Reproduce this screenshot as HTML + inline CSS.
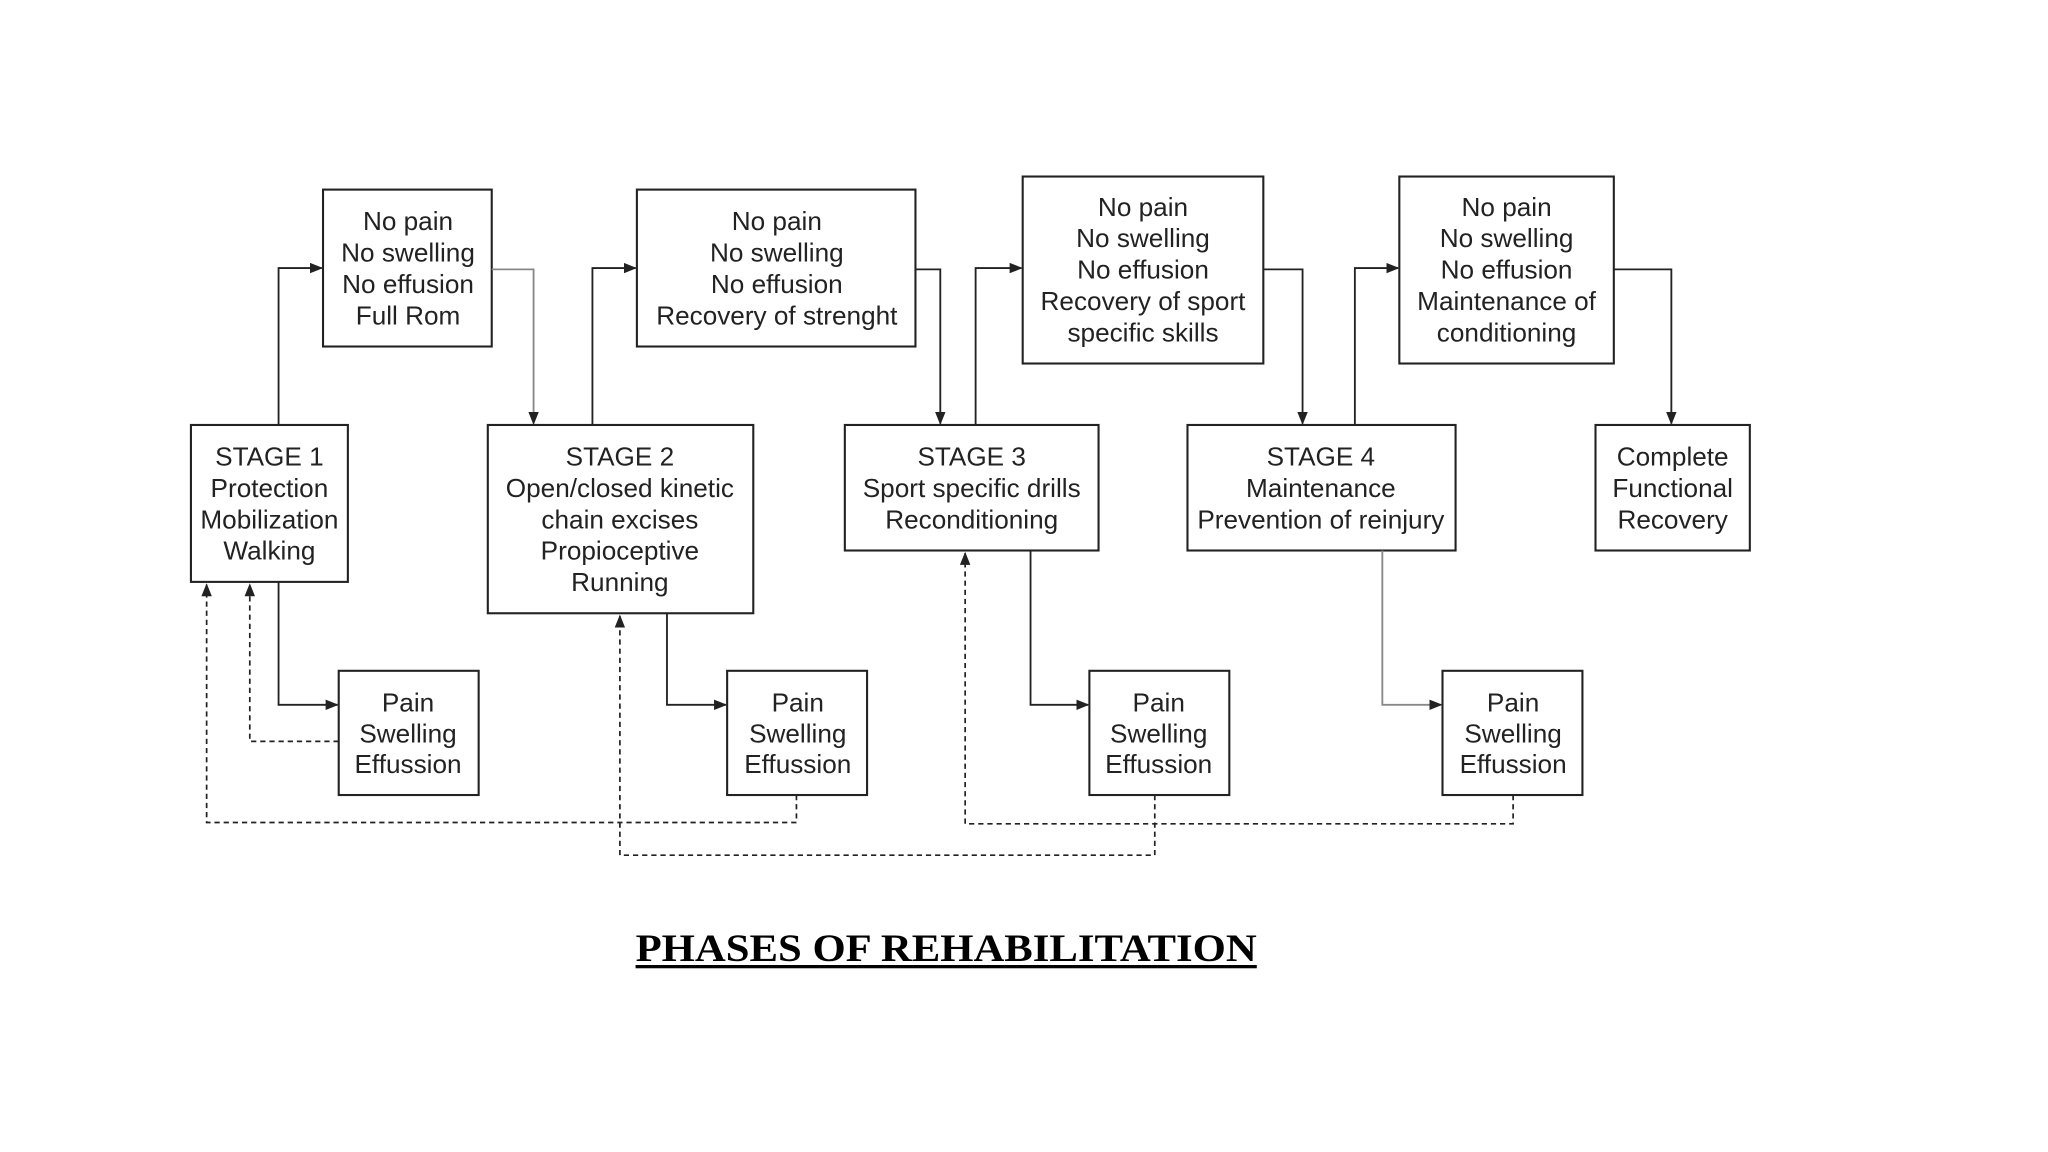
<!DOCTYPE html>
<html><head><meta charset="utf-8"><style>html,body{margin:0;padding:0;background:#fff}svg{display:block}</style></head>
<body>
<svg width="2048" height="1152" viewBox="0 0 1566 881" preserveAspectRatio="none" xmlns="http://www.w3.org/2000/svg">
<defs>
<marker id="a" markerWidth="10" markerHeight="8" refX="9" refY="4" orient="auto" markerUnits="userSpaceOnUse"><path d="M0,0 L10,4 L0,8 z" fill="#222"/></marker>
</defs>
<rect width="1566" height="881" fill="#fff"/>
<g fill="#fff" stroke="#222" stroke-width="1.6">
<rect x="247" y="145" width="129" height="120"/>
<rect x="487" y="145" width="213" height="120"/>
<rect x="782" y="135" width="184" height="143"/>
<rect x="1070" y="135" width="164" height="143"/>
<rect x="146" y="325" width="120" height="120"/>
<rect x="373" y="325" width="203" height="144"/>
<rect x="646" y="325" width="194" height="96"/>
<rect x="908" y="325" width="205" height="96"/>
<rect x="1220" y="325" width="118" height="96"/>
<rect x="259" y="513" width="107" height="95"/>
<rect x="556" y="513" width="107" height="95"/>
<rect x="833" y="513" width="107" height="95"/>
<rect x="1103" y="513" width="107" height="95"/>
</g>
<g fill="none" stroke="#222" stroke-width="1.4">
<path d="M213 325V205H246" marker-end="url(#a)"/>
<path d="M376 206H408V324" stroke="#888" marker-end="url(#a)"/>
<path d="M453 325V205H486" marker-end="url(#a)"/>
<path d="M700 206H719V324" marker-end="url(#a)"/>
<path d="M746 325V205H781" marker-end="url(#a)"/>
<path d="M966 206H996V324" marker-end="url(#a)"/>
<path d="M1036 325V205H1069" marker-end="url(#a)"/>
<path d="M1234 206H1278V324" marker-end="url(#a)"/>
<path d="M213 445V539H258" marker-end="url(#a)"/>
<path d="M510 469V539H555" marker-end="url(#a)"/>
<path d="M788 421V539H832" marker-end="url(#a)"/>
<path d="M1057 421V539H1102" stroke="#888" marker-end="url(#a)"/>
</g>
<g fill="none" stroke="#222" stroke-width="1.3" stroke-dasharray="4,3">
<path d="M259 567H191V447" marker-end="url(#a)"/>
<path d="M609 608V629H158V447" marker-end="url(#a)"/>
<path d="M883 608V654H474V471" marker-end="url(#a)"/>
<path d="M1157 608V630H738V423" marker-end="url(#a)"/>
</g>
<g font-family="Liberation Sans, Arial, sans-serif" font-size="20" fill="#222" text-anchor="middle">
<text x="312" y="176">No pain</text><text x="312" y="200">No swelling</text><text x="312" y="224">No effusion</text><text x="312" y="248">Full Rom</text>
<text x="594" y="176">No pain</text><text x="594" y="200">No swelling</text><text x="594" y="224">No effusion</text><text x="594" y="248">Recovery of strenght</text>
<text x="874" y="165">No pain</text><text x="874" y="189">No swelling</text><text x="874" y="213">No effusion</text><text x="874" y="237">Recovery of sport</text><text x="874" y="261">specific skills</text>
<text x="1152" y="165">No pain</text><text x="1152" y="189">No swelling</text><text x="1152" y="213">No effusion</text><text x="1152" y="237">Maintenance of</text><text x="1152" y="261">conditioning</text>
<text x="206" y="356">STAGE 1</text><text x="206" y="380">Protection</text><text x="206" y="404">Mobilization</text><text x="206" y="428">Walking</text>
<text x="474" y="356">STAGE 2</text><text x="474" y="380">Open/closed kinetic</text><text x="474" y="404">chain excises</text><text x="474" y="428">Propioceptive</text><text x="474" y="452">Running</text>
<text x="743" y="356">STAGE 3</text><text x="743" y="380">Sport specific drills</text><text x="743" y="404">Reconditioning</text>
<text x="1010" y="356">STAGE 4</text><text x="1010" y="380">Maintenance</text><text x="1010" y="404">Prevention of reinjury</text>
<text x="1279" y="356">Complete</text><text x="1279" y="380">Functional</text><text x="1279" y="404">Recovery</text>
<text x="312" y="544">Pain</text><text x="312" y="568">Swelling</text><text x="312" y="591">Effussion</text>
<text x="610" y="544">Pain</text><text x="610" y="568">Swelling</text><text x="610" y="591">Effussion</text>
<text x="886" y="544">Pain</text><text x="886" y="568">Swelling</text><text x="886" y="591">Effussion</text>
<text x="1157" y="544">Pain</text><text x="1157" y="568">Swelling</text><text x="1157" y="591">Effussion</text>
</g>
<text x="486" y="735" font-family="Liberation Serif, Times New Roman, serif" font-weight="bold" font-size="30" fill="#000" textLength="475" lengthAdjust="spacingAndGlyphs">PHASES OF REHABILITATION</text>
<rect x="486" y="738" width="475" height="2.5" fill="#000"/>
</svg>
</body></html>
